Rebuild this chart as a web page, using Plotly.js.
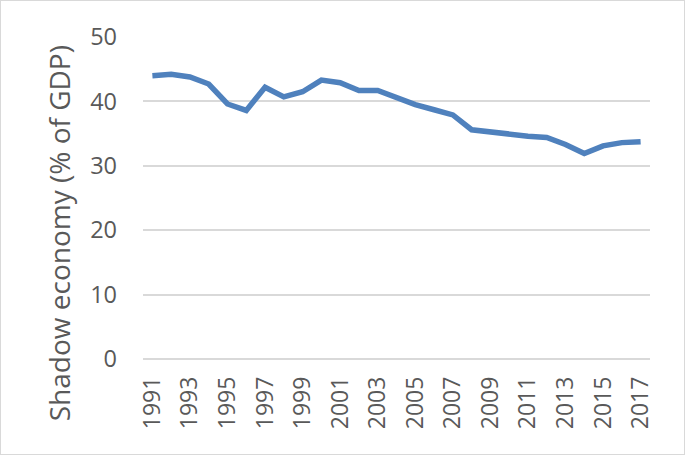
<!DOCTYPE html>
<html>
<head>
<meta charset="utf-8">
<script src="https://cdn.plot.ly/plotly-3.0.1.min.js"></script>
<style>
html,body{margin:0;padding:0;background:#fff;}
#wrap{position:relative;width:685px;height:455px;}
#chart{width:685px;height:455px;}
#frame{position:absolute;left:0;top:0;width:683px;height:453px;border:1px solid #d9d9d9;pointer-events:none;}
</style>
</head>
<body>
<div id="wrap"><div id="chart"></div><div id="frame"></div></div>
<script>
const years = [1991,1992,1993,1994,1995,1996,1997,1998,1999,2000,2001,2002,2003,2004,2005,2006,2007,2008,2009,2010,2011,2012,2013,2014,2015,2016,2017];
const shadowEconomy = [44.0,44.2,43.8,42.7,39.6,38.6,42.2,40.7,41.5,43.3,42.9,41.7,41.7,40.5,39.5,38.7,37.9,35.6,35.2,34.8,34.6,34.4,33.3,31.9,33.1,33.6,33.75];
const tickYears = ["1991","1993","1995","1997","1999","2001","2003","2005","2007","2009","2011","2013","2015","2017"];
const yTitle = "Shadow economy (% of GDP)";

const textColor = "#595959";
const fontFam = "'Open Sans', 'Noto Sans', sans-serif";

Plotly.newPlot("chart", [{
  x: years,
  y: shadowEconomy,
  type: "scatter",
  mode: "lines",
  line: {color: "#4f81bd", width: 5.5},
  hoverinfo: "x+y"
}], {
  width: 685,
  height: 455,
  margin: {l: 143, r: 35, t: 37, b: 96},
  paper_bgcolor: "#ffffff",
  plot_bgcolor: "#ffffff",
  showlegend: false,
  font: {family: fontFam, color: textColor, size: 23},
  xaxis: {
    type: "linear",
    range: [1990.5, 2017.5],
    tickmode: "array",
    tickvals: tickYears.map(Number),
    ticktext: tickYears,
    tickangle: -90,
    showgrid: false,
    zeroline: false,
    showline: false,
    ticks: "",
    ticklabelstandoff: 12,
    tickfont: {size: 23, color: textColor, family: fontFam}
  },
  yaxis: {
    range: [0, 50],
    dtick: 10,
    tick0: 0,
    showgrid: true,
    gridcolor: "#d9d9d9",
    gridwidth: 2,
    zeroline: true,
    zerolinecolor: "#d9d9d9",
    zerolinewidth: 2,
    showline: false,
    ticks: "",
    ticklabelstandoff: 25,
    tickfont: {size: 23.5, color: textColor, family: fontFam}
  },
  annotations: [{
    text: yTitle,
    xref: "paper", yref: "paper",
    x: -0.164, y: 0.39,
    xanchor: "center", yanchor: "middle",
    textangle: -90,
    showarrow: false,
    font: {size: 28, color: textColor, family: fontFam}
  }]
}, {displayModeBar: false, staticPlot: true});
</script>
</body>
</html>
